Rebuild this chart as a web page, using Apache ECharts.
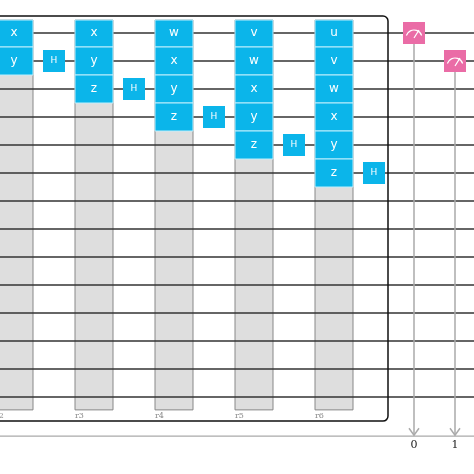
<!DOCTYPE html>
<html>
<head>
<meta charset="utf-8">
<script src="https://cdn.jsdelivr.net/npm/echarts@6/dist/echarts.min.js"></script>
<style>html,body{margin:0;padding:0;background:#fff}#chartmain{width:474px;height:474px}</style>
</head>
<body>
<div id="chartmain"></div>
<script>
var wireCount = 14;
var blockLabels = ["r2", "r3", "r4", "r5", "r6"];
var blockQubits = [
  ["x", "y"],
  ["x", "y", "z"],
  ["w", "x", "y", "z"],
  ["v", "w", "x", "y", "z"],
  ["u", "v", "w", "x", "y", "z"]
];
var hadamardWires = [1, 2, 3, 4, 5];
var measureWires = [0, 1];
var measureBits = ["0", "1"];

var blue = "#0bb5ea";
var pink = "#ea6ca6";

function renderAll(params, api) {
  var kids = [];
  function pt(c, w) { return api.coord([c, w]); }
  var x0 = pt(-0.35, 0)[0], x1 = pt(11.5, 0)[0];
  var bw = 38, hs = 22;

  // gray block bodies
  for (var k = 0; k < blockQubits.length; k++) {
    var c = pt(2 * k, 0)[0];
    var top = pt(0, -0.464)[1], bot = pt(0, 13.46)[1];
    kids.push({ type: "rect", shape: { x: c - bw / 2, y: top, width: bw, height: bot - top },
      style: { fill: "#dedede", stroke: "#888", lineWidth: 1 } });
  }
  // wires
  for (var i = 0; i < wireCount; i++) {
    var y = pt(0, i)[1];
    kids.push({ type: "line", shape: { x1: x0, y1: y, x2: x1, y2: y }, style: { stroke: "#333", lineWidth: 1.5 } });
  }
  // blue cells
  for (var k = 0; k < blockQubits.length; k++) {
    var c = pt(2 * k, 0)[0];
    var q = blockQubits[k];
    for (var j = 0; j < q.length; j++) {
      var t = pt(0, j === 0 ? -0.464 : j - 0.5)[1], b = pt(0, j + 0.5)[1];
      kids.push({ type: "rect", shape: { x: c - bw / 2, y: t, width: bw, height: b - t },
        style: { fill: blue, stroke: "#bfeefc", lineWidth: 1 } });
      kids.push({ type: "text", style: { x: c, y: pt(0, j)[1], text: q[j], fill: "#fff",
        font: "12px DejaVu Sans", align: "center", verticalAlign: "middle" } });
    }
    kids.push({ type: "text", style: { x: c - bw / 2, y: pt(0, 13.46)[1] + 2, text: blockLabels[k],
      fill: "#888", font: "8px DejaVu Serif", align: "left", verticalAlign: "top" } });
  }
  // H gates
  for (var k = 0; k < hadamardWires.length; k++) {
    var p = pt(2 * k + 1, hadamardWires[k]);
    kids.push({ type: "rect", shape: { x: p[0] - hs / 2, y: p[1] - hs / 2, width: hs, height: hs }, style: { fill: blue } });
    kids.push({ type: "text", style: { x: p[0], y: p[1], text: "H", fill: "#fff", font: "9px DejaVu Sans",
      align: "center", verticalAlign: "middle" } });
  }
  // frame
  var fr = pt(9.35, 0)[0], ft = pt(0, -0.607)[1], fb = pt(0, 13.86)[1];
  kids.push({ type: "rect", shape: { x: -10, y: ft, width: fr + 10, height: fb - ft, r: 5 },
    style: { fill: "none", stroke: "#111", lineWidth: 1.5 } });
  // classical register
  var cy = pt(0, 14.4)[1];
  kids.push({ type: "line", shape: { x1: x0, y1: cy, x2: x1, y2: cy }, style: { stroke: "#aaa", lineWidth: 1.2 } });
  // measurements
  for (var m = 0; m < measureWires.length; m++) {
    var p = pt(10 + m * 1.025, measureWires[m]);
    kids.push({ type: "line", shape: { x1: p[0], y1: p[1], x2: p[0], y2: cy - 1 }, style: { stroke: "#aaa", lineWidth: 1.5 } });
    kids.push({ type: "polyline", shape: { points: [[p[0] - 5, cy - 8], [p[0], cy - 1], [p[0] + 5, cy - 8]] },
      style: { stroke: "#aaa", lineWidth: 1.5, fill: "none" } });
    kids.push({ type: "rect", shape: { x: p[0] - hs / 2, y: p[1] - hs / 2, width: hs, height: hs }, style: { fill: pink } });
    kids.push({ type: "arc", shape: { cx: p[0], cy: p[1] + 5, r: 8, startAngle: Math.PI * 1.1, endAngle: Math.PI * 1.9 },
      style: { stroke: "#fff", lineWidth: 1.2, fill: "none" } });
    kids.push({ type: "line", shape: { x1: p[0], y1: p[1] + 5, x2: p[0] + 5, y2: p[1] - 3 }, style: { stroke: "#fff", lineWidth: 1.2 } });
    kids.push({ type: "text", style: { x: p[0], y: cy + 3, text: measureBits[m], fill: "#222",
      font: "11px DejaVu Serif", align: "center", verticalAlign: "top" } });
  }
  return { type: "group", children: kids };
}

var myChart = echarts.init(document.getElementById("chartmain"));
myChart.setOption({
  animation: false,
  grid: { left: 0, right: 0, top: 0, bottom: 0 },
  xAxis: { type: "value", min: -0.35, max: 11.5, show: false },
  yAxis: { type: "value", min: -33 / 28, max: (474 - 33) / 28, inverse: true, show: false },
  series: [{ type: "custom", renderItem: renderAll, data: [[0, 0]], silent: true, clip: false }]
});
</script>
</body>
</html>
